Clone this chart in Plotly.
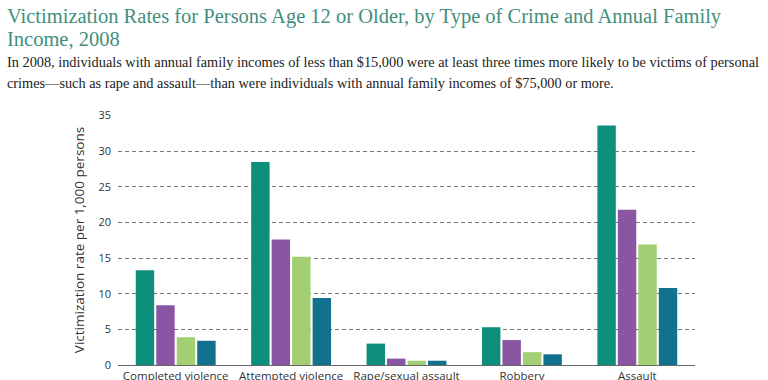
import plotly.graph_objects as go

categories = ["Completed violence", "Attempted violence", "Rape/sexual assault", "Robbery", "Assault"]
series_names = ["Less than $15,000", "$15,000–$34,999", "$35,000–$74,999", "$75,000 or more"]
income_lt15 = [13.3, 28.5, 3.0, 5.3, 33.6]
income_15_35 = [8.4, 17.6, 0.9, 3.5, 21.8]
income_35_75 = [3.9, 15.2, 0.6, 1.8, 16.9]
income_75_plus = [3.4, 9.4, 0.6, 1.5, 10.8]
y_ticks = [0, 5, 10, 15, 20, 25, 30, 35]

colors = ["#0e8f7c", "#8a56a4", "#a3cf74", "#11718f"]
series = [income_lt15, income_15_35, income_35_75, income_75_plus]

fig = go.Figure()
for name, vals, c in zip(series_names, series, colors):
    fig.add_trace(go.Bar(x=categories, y=vals, name=name, marker=dict(color=c, line=dict(width=0))))

W, H = 768, 380
L, R, T, B = 118, 73, 115, 15
ph = H - T - B

def py(p):
    return (H - B - p) / ph

def px(p):
    return (p - L) / (W - L - R)

title_color = "#3f8f80"
annots = [
    dict(text="Victimization Rates for Persons Age 12 or Older, by Type of Crime and Annual Family",
         x=px(5), y=py(16), font=dict(family="Liberation Serif", size=20.5, color=title_color)),
    dict(text="Income, 2008",
         x=px(5), y=py(39), font=dict(family="Liberation Serif", size=20.5, color=title_color)),
    dict(text="In 2008, individuals with annual family incomes of less than $15,000 were at least three times more likely to be victims of personal",
         x=px(5), y=py(62), font=dict(family="Liberation Serif", size=14.3, color="#222222")),
    dict(text="crimes\u2014such as rape and assault\u2014than were individuals with annual family incomes of $75,000 or more.",
         x=px(5), y=py(83), font=dict(family="Liberation Serif", size=14.3, color="#222222")),
]
for a in annots:
    a.update(xref="paper", yref="paper", xanchor="left", yanchor="middle", showarrow=False)

fig.update_layout(
    width=W, height=H,
    margin=dict(l=L, r=R, t=T, b=B, pad=0, autoexpand=False),
    paper_bgcolor="white", plot_bgcolor="white",
    barmode="group", bargap=0.29, bargroupgap=0.1,
    showlegend=False,
    annotations=annots,
    font=dict(family="Open Sans", color="#333333"),
)
fig.update_yaxes(
    range=[0, 35.08], tickvals=y_ticks, automargin=False,
    showgrid=True, gridcolor="#777777", griddash="4px,3px", gridwidth=1,
    zeroline=False, showline=False,
    tickfont=dict(size=11, color="#333333"),
    ticklabelstandoff=6,
    title=dict(text="Victimization rate per 1,000 persons", font=dict(size=13.5, color="#333333"), standoff=10),
)
fig.update_xaxes(
    showline=True, linecolor="#666666", linewidth=1, automargin=False,
    showgrid=False, ticks="",
    tickfont=dict(size=11.5, color="#333333"),
)

fig.write_html("out.html", config={"displayModeBar": False},
               post_script="document.body.style.margin='0';")
